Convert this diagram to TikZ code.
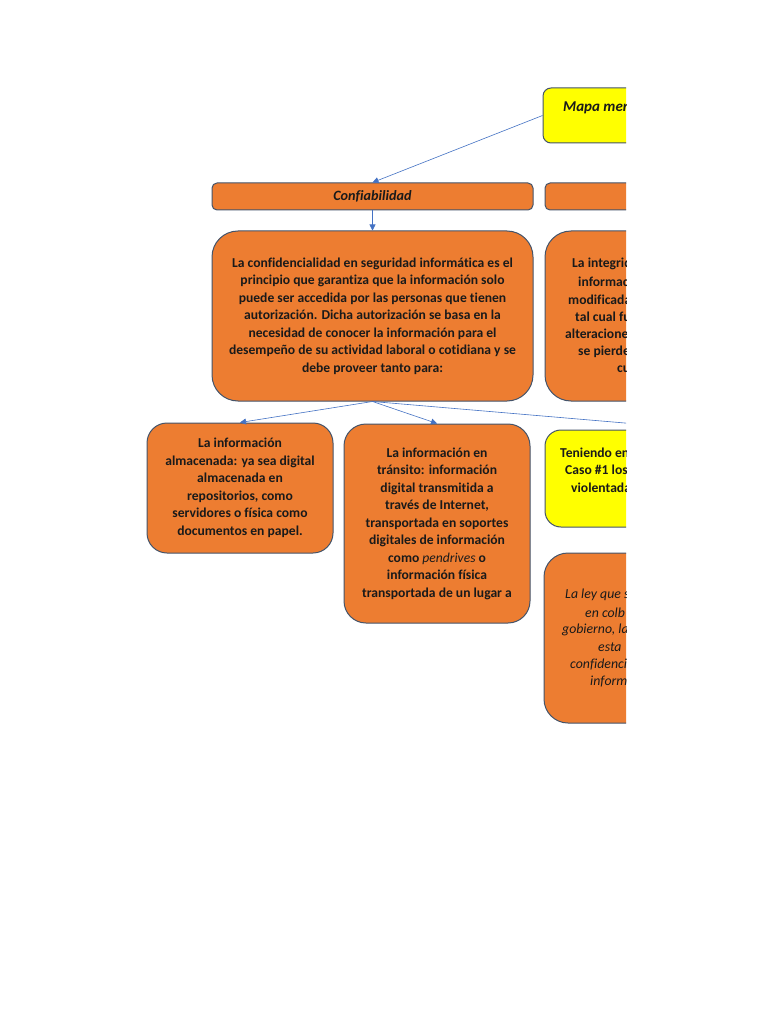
\documentclass[tikz,border=0pt]{standalone}
\usepackage{fontspec}
\setmainfont{Carlito}[Ligatures=NoCommon]
\usetikzlibrary{arrows.meta}
\definecolor{boxorange}{HTML}{ED7D31}
\definecolor{boxyellow}{HTML}{FFFF00}
\definecolor{boxborder}{HTML}{44546A}
\definecolor{linkblue}{HTML}{4472C4}
\definecolor{txt}{HTML}{1A1A1A}
\tikzset{
  obox/.style={draw=boxborder, line width=1pt, fill=boxorange, text=txt, align=center, inner sep=0pt},
  ybox/.style={draw=boxborder, line width=1pt, fill=boxyellow, text=txt, align=center, inner sep=0pt},
  body/.style={font=\bfseries\fontsize{13.6}{17.5}\selectfont, text=txt},
  ibody/.style={font=\itshape\fontsize{13.8}{17.5}\selectfont, text=txt},
  bibody/.style={font=\bfseries\itshape\fontsize{14.2}{17.5}\selectfont, text=txt},
  link/.style={draw=linkblue, line width=0.6pt, -{Triangle[length=6pt,width=6pt]}},
  plink/.style={draw=linkblue, line width=0.6pt},
  seg/.style={anchor=west, inner sep=0pt}
}
\begin{document}
\begin{tikzpicture}[x=1pt,y=-1pt]
\useasboundingbox[fill=white] (0,0) rectangle (768,1024);
\begin{scope}
\clip (0,0) rectangle (626,1024);
% top
\node[ybox, rounded corners=8pt, minimum width=160, minimum height=55] (mapa) at (623,115.5) {};
\node[seg, font=\bfseries\itshape\fontsize{15}{18}\selectfont, text=txt] (mapatxt) at (563,108) {Mapa ment};
% headers
\node[obox, rounded corners=5pt, minimum width=321, minimum height=27, bibody] (conf) at (372.5,196.5) {Confiabilidad};
\node[obox, rounded corners=5pt, minimum width=321, minimum height=27] (hdr2) at (705.5,196.5) {};
% big boxes
\node[obox, rounded corners=26pt, minimum width=321, minimum height=170, body] (bigA) at (372.5,316) {La confidencialidad en seguridad informática es el\\principio que garantiza que la información solo\\puede ser accedida por las personas que tienen\\autorización. Dicha autorización se basa en la\\necesidad de conocer la información para el\\desempeño de su actividad laboral o cotidiana y se\\debe proveer tanto para:};
\node[obox, rounded corners=26pt, minimum width=321, minimum height=170] (bigB) at (705.5,316) {};
\node[seg, body] (b1) at (572,264) {La integrid};
\node[seg, body] (b2) at (578,282) {informaci};
\node[seg, body] (b3) at (568,300) {modificada};
\node[seg, body] (b4) at (575,317) {tal cual fue};
\node[seg, body] (b5) at (565,334) {alteraciones};
\node[seg, body] (b6) at (578,352) {se pierde};
\node[seg, body] (b7) at (617,369) {cu};
% lower boxes
\node[obox, rounded corners=20pt, minimum width=186, minimum height=130, body] (boxA) at (240,488) {La información\\almacenada: ya sea digital\\almacenada en\\repositorios, como\\servidores o física como\\documentos en papel.};
\node[obox, rounded corners=22pt, minimum width=186, minimum height=199, body] (boxB) at (437,523.5) {La información en\\tránsito: información\\digital transmitida a\\través de Internet,\\transportada en soportes\\digitales de información\\como \textit{\mdseries pendrives} o\\información física\\transportada de un lugar a};
\node[ybox, rounded corners=16pt, minimum width=186, minimum height=97] (boxC) at (638,478.5) {};
\node[seg, body] (c1) at (560,453) {Teniendo en};
\node[seg, body] (c2) at (565,470) {Caso \#1 los};
\node[seg, body] (c3) at (571,488) {violentada};
\node[obox, rounded corners=24pt, minimum width=186, minimum height=170] (boxD) at (637,638) {};
\node[seg, ibody] (d1) at (565,595) {La ley que s};
\node[seg, ibody] (d2) at (585,613) {en colb};
\node[seg, ibody] (d3) at (562,630) {gobierno, la};
\node[seg, ibody] (d4) at (598,647) {esta};
\node[seg, ibody] (d5) at (570,665) {confidenci};
\node[seg, ibody] (d6) at (590,682) {inform};
% connectors
\coordinate (offright) at (660,426);
\draw[link] (mapa.west) -- (conf.north);
\draw[link] (conf.south) -- (bigA.north);
\draw[link] (bigA.south) -- (boxA.north);
\draw[link] (bigA.south) -- (boxB.north);
\draw[plink] (bigA.south) -- (offright);
\end{scope}
\end{tikzpicture}
\end{document}
